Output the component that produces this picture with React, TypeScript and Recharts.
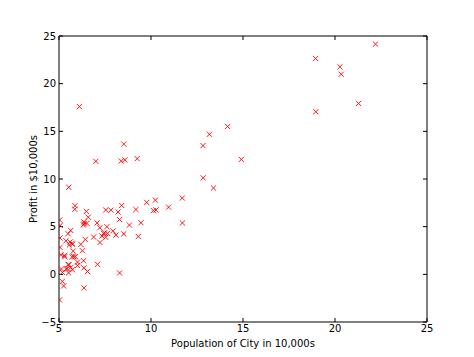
import React from 'react';
import { ScatterChart, Scatter, XAxis, YAxis } from 'recharts';

const population: number[] = [
  6.1101, 5.5277, 8.5186, 7.0032, 5.8598, 8.3829, 7.4764, 8.5781, 6.4862, 5.0546,
  5.7107, 14.164, 5.734, 8.4084, 5.6407, 5.3794, 6.3654, 5.1301, 6.4296, 7.0708,
  6.1891, 20.27, 5.4901, 6.3261, 5.5649, 18.945, 12.828, 10.957, 13.176, 22.203,
  5.2524, 6.5894, 9.2482, 5.8918, 8.2111, 7.9334, 8.0959, 5.6063, 12.836, 6.3534,
  5.4069, 6.8825, 11.708, 5.7737, 7.8247, 7.0931, 5.0702, 5.8014, 11.7, 5.5416,
  7.5402, 5.3077, 7.4239, 7.6031, 6.3328, 6.3589, 6.2742, 5.6397, 9.3102, 9.4536,
  8.8254, 5.1793, 21.279, 14.908, 18.959, 7.2182, 8.2951, 10.236, 5.4994, 20.341,
  10.136, 7.3345, 6.0062, 7.2259, 5.0269, 6.5479, 7.5386, 5.0365, 10.274, 5.1077,
  5.7292, 5.1884, 6.3557, 9.7687, 6.5159, 8.5172, 9.1802, 6.002, 5.5204, 5.0594,
  5.7077, 7.6366, 5.8707, 5.3054, 8.2934, 13.394, 5.4369,
];

const profit: number[] = [
  17.592, 9.1302, 13.662, 11.854, 6.8233, 11.886, 4.3483, 12, 6.5987, 3.8166,
  3.2522, 15.505, 3.1551, 7.2258, 0.71618, 3.5129, 5.3048, 0.56077, 3.6518, 5.3893,
  3.1386, 21.767, 4.263, 5.1875, 3.0825, 22.638, 13.501, 7.0467, 14.692, 24.147,
  -1.22, 5.9966, 12.134, 1.8495, 6.5426, 4.5623, 4.1164, 3.3928, 10.117, 5.4974,
  0.55657, 3.9115, 5.3854, 2.4406, 6.7318, 1.0463, 5.1337, 1.844, 8.0043, 1.0179,
  6.7504, 1.8396, 4.2885, 4.9981, 1.4233, -1.4211, 2.4756, 4.6042, 3.9624, 5.4141,
  5.1694, -0.74279, 17.929, 12.054, 17.054, 4.8852, 5.7442, 7.7754, 1.0173, 20.992,
  6.6799, 4.0259, 1.2784, 3.3411, -2.6807, 0.29678, 3.8845, 5.7014, 6.7526, 2.0576,
  0.47953, 0.20421, 0.67861, 7.5435, 5.3436, 4.2415, 6.7981, 0.92695, 0.152, 2.8214,
  1.8451, 4.2959, 7.2029, 1.9869, 0.14454, 9.0551, 0.61705,
];

const xTicks: number[] = [5, 10, 15, 20, 25];
const yTicks: number[] = [-5, 0, 5, 10, 15, 20, 25];
const xLabel = 'Population of City in 10,000s';
const yLabel = 'Profit in $10,000s';

const data = population.map((p, i) => ({ x: p, y: profit[i] }));

const FONT = 'DejaVu Sans';
const tickStyle = { fontFamily: FONT, fontSize: 10, fill: '#000' };
const fmt = (v: number) => (v < 0 ? '\u2212' + Math.abs(v) : String(v));

const Cross = (props: any) => {
  const { cx, cy } = props;
  if (cx == null || cy == null) return null;
  const r = 2.6;
  return (
    <path
      d={`M${cx - r},${cy - r}L${cx + r},${cy + r}M${cx - r},${cy + r}L${cx + r},${cy - r}`}
      stroke="#ff0000"
      strokeWidth={0.9}
      fill="none"
    />
  );
};

const Nothing = () => <g />;

export default function App() {
  return (
    <div style={{ position: 'absolute', left: 0, top: 0, background: '#fff' }}>
      <ScatterChart
        width={474}
        height={357}
        margin={{ top: 35, right: 46, left: 0, bottom: 0 }}
      >
        <XAxis
          dataKey="x"
          type="number"
          domain={[5, 25]}
          ticks={xTicks}
          allowDataOverflow
          height={35}
          tickSize={-4}
          tickMargin={7}
          tick={tickStyle}
          tickFormatter={fmt}
          axisLine={{ stroke: '#000' }}
          tickLine={{ stroke: '#000' }}
          label={{
            value: xLabel,
            position: 'insideBottom',
            offset: 10,
            style: { fontFamily: FONT, fontSize: 10, fill: '#000' },
          }}
        />
        <XAxis
          xAxisId="top"
          dataKey="x"
          orientation="top"
          type="number"
          domain={[5, 25]}
          ticks={xTicks}
          allowDataOverflow
          height={1}
          tickSize={-4}
          tickFormatter={() => ''}
          axisLine={{ stroke: '#000' }}
          tickLine={{ stroke: '#000' }}
        />
        <YAxis
          dataKey="y"
          type="number"
          domain={[-5, 25]}
          ticks={yTicks}
          allowDataOverflow
          width={59}
          tickSize={-4}
          tickMargin={7}
          tick={tickStyle}
          tickFormatter={fmt}
          axisLine={{ stroke: '#000' }}
          tickLine={{ stroke: '#000' }}
          label={{
            value: yLabel,
            angle: -90,
            position: 'insideLeft',
            offset: 33,
            style: { fontFamily: FONT, fontSize: 10, fill: '#000', textAnchor: 'middle' },
          }}
        />
        <YAxis
          yAxisId="right"
          dataKey="y"
          orientation="right"
          type="number"
          domain={[-5, 25]}
          ticks={yTicks}
          allowDataOverflow
          width={1}
          tickSize={-4}
          tickFormatter={() => ''}
          axisLine={{ stroke: '#000' }}
          tickLine={{ stroke: '#000' }}
        />
        <Scatter
          data={data}
          xAxisId="top"
          yAxisId="right"
          shape={Nothing}
          isAnimationActive={false}
        />
        <Scatter data={data} shape={Cross} isAnimationActive={false} />
      </ScatterChart>
    </div>
  );
}
